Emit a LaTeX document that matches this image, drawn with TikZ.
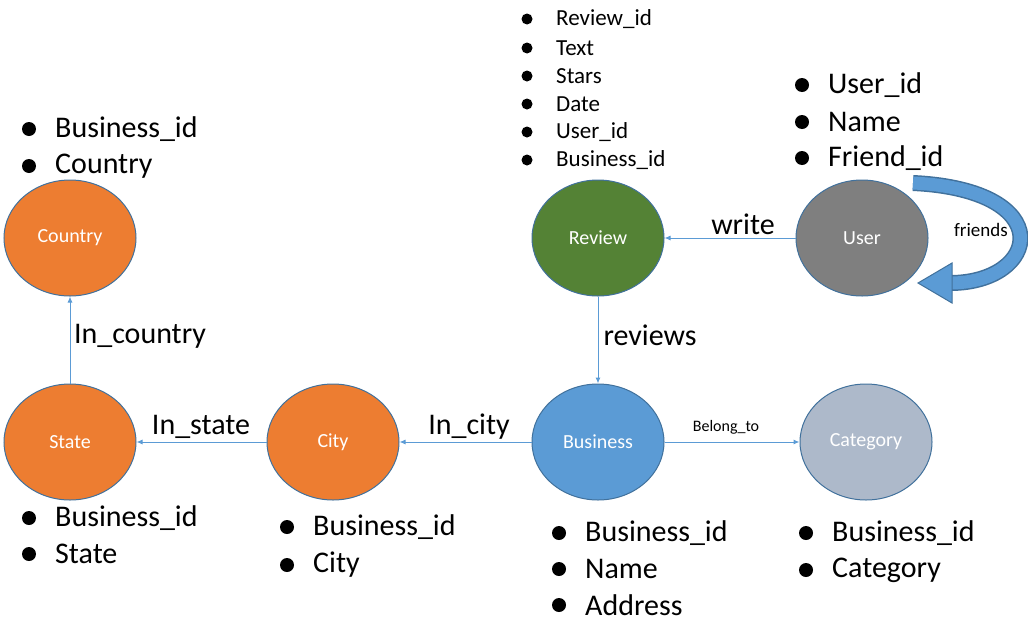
\documentclass[tikz,border=0pt]{standalone}
\usepackage{fontspec}
\setmainfont{Carlito}
\usetikzlibrary{arrows.meta,shapes.geometric}
\definecolor{corange}{HTML}{ED7D31}
\definecolor{cgreen}{HTML}{548235}
\definecolor{cgray}{HTML}{7F7F7F}
\definecolor{cblue}{HTML}{5B9BD5}
\definecolor{ccat}{HTML}{ADB9CA}
\definecolor{cborder}{HTML}{41719C}
\begin{document}
\begin{tikzpicture}[x=1pt,y=-1pt,
  ent/.style={ellipse,draw=cborder,line width=1pt,minimum width=132pt,minimum height=116pt,inner sep=0pt,text=white,font=\fontsize{20}{24}\selectfont},
  conn/.style={-{Latex[length=6pt,width=5pt]},cblue,line width=1pt},
  big/.style={font=\fontsize{30}{36}\selectfont,anchor=west,inner sep=0pt},
  small/.style={font=\fontsize{23}{28}\selectfont,anchor=west,inner sep=0pt},
  lbl/.style={font=\fontsize{30}{36}\selectfont,inner sep=0pt},
  bul/.style={circle,fill=black,inner sep=0pt,minimum size=#1}]
\useasboundingbox (0,0) rectangle (1028,627);
\node[ent,fill=corange] (country) at (70,238) {Country};
\node[ent,fill=cgreen] (review) at (598,238) {Review};
\node[ent,fill=cgray] (user) at (862,238) {User};
\node[ent,fill=corange] (state) at (70,442) {State};
\node[ent,fill=corange] (city) at (333,442) {City};
\node[ent,fill=cblue] (business) at (598,442) {Business};
\node[ent,fill=ccat] (category) at (866,442) {Category};
\draw[conn] (user) -- (review);
\draw[conn] (review) -- (business);
\draw[conn] (business) -- (city);
\draw[conn] (city) -- (state);
\draw[conn] (state) -- (country);
\draw[conn] (business) -- (category);
\node[lbl] (lw) at (743,224) {write};
\node[lbl] (lr) at (650,335) {reviews};
\node[lbl] (lc) at (140,336) {In\_country};
\node[lbl] (ls) at (201,427) {In\_state};
\node[lbl] (li) at (469,427) {In\_city};
\node[font=\fontsize{16}{19}\selectfont] (lb) at (726,427) {Belong\_to};
% friends arrow
\coordinate (fa) at (913,183);
\draw[draw=cborder,line width=16pt] (fa) .. controls (1060,190) and (1040,283) .. (950,283);
\draw[draw=cblue,line width=13pt] (fa) .. controls (1060,190) and (1040,283) .. (950,283);
\fill[cblue,draw=cborder,line width=1pt] (952,263) -- (952,303) -- (918,283) -- cycle;
\node[font=\fontsize{19}{22}\selectfont] (lf) at (981,230) {friends};
% lists
\foreach \y/\t in {129/Business\_id,166/Country}{\node[bul=14pt] at (29,\y){};\node[big] at (55,\y){\t};}
\foreach \y/\t in {19/Review\_id,48/Text,76/Stars,104/Date,132/User\_id,160/Business\_id}{\node[bul=11pt] at (527,\y){};\node[small] at (556,\y){\t};}
\foreach \y/\t in {85/User\_id,122/Name,158/Friend\_id}{\node[bul=14pt] at (802,\y){};\node[big] at (828,\y){\t};}
\foreach \y/\t in {518/Business\_id,554/State}{\node[bul=14pt] at (29,\y){};\node[big] at (55,\y){\t};}
\foreach \y/\t in {527/Business\_id,565/City}{\node[bul=14pt] at (287,\y){};\node[big] at (313,\y){\t};}
\foreach \y/\t in {533/Business\_id,569/Name,605/Address}{\node[bul=14pt] at (559,\y){};\node[big] at (585,\y){\t};}
\foreach \y/\t in {533/Business\_id,570/Category}{\node[bul=14pt] at (806,\y){};\node[big] at (832,\y){\t};}
\end{tikzpicture}
\end{document}
